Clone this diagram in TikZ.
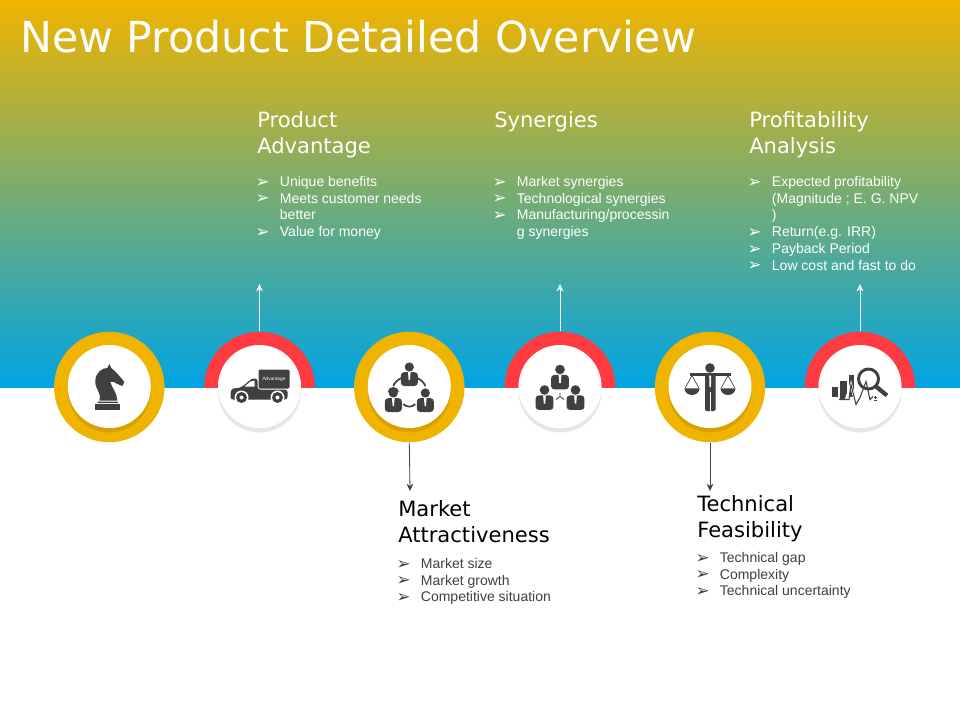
\documentclass[tikz,border=0pt]{standalone}
\usepackage{fontspec}
\setmainfont{Liberation Sans}
\newfontfamily\headfont{DejaVu Sans}
\usetikzlibrary{arrows.meta}
\definecolor{goldc}{HTML}{F0B400}
\definecolor{goldd}{HTML}{D9A000}
\definecolor{bluec}{HTML}{00A4E4}
\definecolor{redc}{HTML}{FF3B41}
\definecolor{iconc}{HTML}{404040}
\definecolor{shadowc}{HTML}{E6E6E6}
\tikzset{goldring/.style = {shape=circle,fill=goldc,minimum size=110.5*0.75pt,inner sep=0}}
\tikzset{redring/.style = {shape=circle,fill=redc,minimum size=110.5*0.75pt,inner sep=0}}
\tikzset{disc/.style = {shape=circle,fill=white,minimum size=83*0.75pt,inner sep=0}}
\tikzset{edge/.style = {-{Stealth[length=5.5pt,width=5pt]},line width=0.6pt}}
\tikzset{heading/.style = {anchor=north west,inner sep=0,align=left,font=\headfont\fontsize{15.8}{19.5}\selectfont}}
\tikzset{bullets/.style = {anchor=north west,inner sep=0,align=left,font=\fontsize{10.5}{12.55}\selectfont}}
\tikzset{ink/.style = {fill=iconc,draw=none}}
\tikzset{inkline/.style = {draw=iconc,line width=1.3pt,fill=none}}
\newcommand{\bul}{\makebox[17pt][l]{\hspace{-1.3pt}\smash{\raisebox{-0.5pt}{\headfont\fontsize{12.5}{14}\selectfont ➢}}}}
\newcommand{\hang}{\makebox[17pt][l]{}}
% head at (#1,#2), #3 is the scale
\newcommand{\person}[3]{
  \begin{scope}[shift={(#1,#2)},scale=#3]
    \fill[ink] (0,0) circle (4.6);
    \fill[ink,rounded corners=2.5] (-8.5,19) -- (-8.5,5.2) -- (8.5,5.2) -- (8.5,19) -- cycle;
    \fill[white] (-1.3,5.2) -- (1.3,5.2) -- (0.7,13) -- (-0.7,13) -- cycle;
  \end{scope}
}
\begin{document}
\begin{tikzpicture}[x=0.75pt,y=-0.75pt]
  \useasboundingbox (0,0) rectangle (960,720);
  \fill[white] (0,0) rectangle (960,720);
  \shade[top color=goldc,bottom color=bluec] (0,0) rectangle (960,387);

  % rings
  \foreach \name/\cx in {knight/109.3,group/409.3,scales/710} {
    \node[goldring] (\name ring) at (\cx,387) {};
    \fill[goldd] (\cx,391) circle (41.5);
  }
  \begin{scope}
    \clip (0,0) rectangle (960,387);
    \foreach \name/\cx in {truck/259.5,team/560,chart/860} {
      \node[redring] (\name ring) at (\cx,387) {};
    }
  \end{scope}
  \foreach \cx in {259.5,560,860} {
    \fill[shadowc] (\cx,391) circle (41.5);
  }
  \foreach \name/\cx in {knight/109.3,truck/259.5,group/409.3,team/560,scales/710,chart/860} {
    \node[disc] (\name disc) at (\cx,386.5) {};
  }

  % knight
  \begin{scope}[shift={(109.3,387)}]
    \fill[ink] (-14,17) -- (11,17) -- (11,23) -- (-14,23) -- cycle;
    \fill[ink] (-11,14.5) -- (8,14.5) -- (9,16) -- (-12,16) -- cycle;
    \fill[ink] (-10,13.5) .. controls (-7,6) and (-15,2) .. (-14,-7)
      .. controls (-13,-15) and (-7,-19) .. (-2,-19) -- (0,-23) -- (2,-19)
      .. controls (7,-15) and (12,-9) .. (15,-5) -- (13,-1) -- (8,-3)
      .. controls (6,-5) and (3,-6) .. (1,-5)
      .. controls (2,0) and (8,6) .. (8,13.5) -- cycle;
  \end{scope}

  % truck
  \begin{scope}[shift={(259.5,386.5)}]
    \fill[ink,rounded corners=1] (-1,-17) rectangle (30,2);
    \node[text=white,font=\fontsize{3.6}{4}\selectfont] (truckword) at (14.5,-7.5) {Advantage};
    \fill[ink,rounded corners=2] (-29,13) -- (-29,6) .. controls (-27,1) and (-22,2) .. (-17,0)
      -- (-10,-6) .. controls (-7,-8) and (-4,-8) .. (-2,-8) -- (-2,3) -- (28,3) -- (28,13) -- cycle;
    \fill[white] (-15,0) -- (-9,-5) -- (-5,-6) -- (-5,0) -- cycle;
    \foreach \wx in {-18,18} {
      \fill[white] (\wx,11) circle (7);
      \fill[ink] (\wx,11) circle (5.5);
      \fill[white] (\wx,11) circle (2);
    }
  \end{scope}

  % three people in a circle
  \begin{scope}[shift={(409.3,387)}]
    \person{0}{-20}{1}
    \person{-16}{6}{1}
    \person{16}{6}{1}
    \fill[ink] (-21.5,5) arc (180:360:5.5 and 5) -- cycle;
    \draw[inkline] (-8,-9) .. controls (-12,-7) and (-15,-4) .. (-16,-1);
    \draw[inkline] (8,-9) .. controls (12,-7) and (15,-4) .. (16,-1);
    \draw[inkline] (-6,17) .. controls (-3,20.5) and (3,20.5) .. (6,17);
  \end{scope}

  % three people in a tree
  \begin{scope}[shift={(560,386.5)}]
    \person{0}{-17}{1.05}
    \person{-15.5}{3.5}{1.05}
    \person{15.5}{3.5}{1.05}
    \draw[draw=iconc,line width=0.6pt] (0,6) -- (0,10) -- (-4,13) (0,10) -- (4,13);
  \end{scope}

  % man holding scales
  \begin{scope}[shift={(710,387)}]
    \fill[ink] (0,-19) circle (4.8);
    \fill[ink] (-20,-14.5) rectangle (21,-11.5);
    \fill[ink,rounded corners=1] (-5,-13) rectangle (5.5,24);
    \fill[white] (-0.1,5) rectangle (0.5,24);
    \fill[white] (-0.8,-11.5) -- (1.2,-11.5) -- (0.9,0) -- (-0.5,0) -- cycle;
    \foreach \px in {-18,18} {
      \draw[draw=iconc,line width=0.5pt] (\px-7,1.3) -- (\px,-11.5) -- (\px+7,1.3);
      \fill[ink] (\px-7.5,1.3) arc (180:0:7.5 and 6.7) -- cycle;
    }
  \end{scope}

  % chart under a magnifier
  \begin{scope}[shift={(860,386.5)}]
    \fill[ink] (-28,0) rectangle (-22.5,10);
    \fill[ink] (-20.5,-6) rectangle (-13,12.5);
    \fill[ink] (-11.5,-12) rectangle (-6,10);
    \draw[draw=white,line width=1.8pt] (-14,13) -- (-9,-2) -- (-4,18);
    \draw[draw=iconc,line width=0.8pt] (-21,13) -- (-11,13) -- (-9,-2) -- (-4,18) -- (0,11) -- (6,-5) -- (10,13) -- (13,10);
    \draw[draw=iconc,line width=2.2pt] (8.5,-7.5) circle (10);
    \draw[draw=iconc,line width=3.2pt] (16,0) -- (27,9);
    \draw[draw=iconc,line width=0.5pt] (14,11) -- (17,11) (15.5,9.5) -- (15.5,12.5) (14,14) -- (17,14);
  \end{scope}

  % connectors
  \coordinate (truckend) at (259.5,284);
  \coordinate (teamend) at (560,284);
  \coordinate (chartend) at (860,284);
  \coordinate (groupend) at (410,491);
  \coordinate (scalesend) at (710,491);
  \draw[edge,white] (truckring.north) to (truckend);
  \draw[edge,white] (teamring.north) to (teamend);
  \draw[edge,white] (chartring.north) to (chartend);
  \draw[edge,iconc] (groupring.south) to (groupend);
  \draw[edge,iconc] (scalesring.south) to (scalesend);

  % texts
  \node[text=white,anchor=north west,inner sep=0,font=\headfont\fontsize{32}{38}\selectfont] (title) at (20,20) {New Product Detailed Overview};

  \node[heading,text=white] (advhead) at (257,111) {Product\\Advantage};
  \node[heading,text=white] (synhead) at (494,111) {Synergies};
  \node[heading,text=white] (profhead) at (749,111) {Profitability\\Analysis};
  \node[heading,text=black] (markhead) at (398,500) {Market\\Attractiveness};
  \node[heading,text=black] (techhead) at (697,495) {Technical\\Feasibility};

  \node[bullets,text=white] (advlist) at (257,176) {\bul Unique benefits\\\bul Meets customer needs\\\hang better\\\bul Value for money};
  \node[bullets,text=white] (synlist) at (494,176) {\bul Market synergies\\\bul Technological synergies\\\bul Manufacturing/processin\\\hang g synergies};
  \node[bullets,text=white] (proflist) at (749,176) {\bul Expected profitability\\\hang (Magnitude ; E. G. NPV\\\hang )\\\bul Return(e.g. IRR)\\\bul Payback Period\\\bul Low cost and fast to do};
  \node[bullets,text=iconc] (marklist) at (398,558) {\bul Market size\\\bul Market growth\\\bul Competitive situation};
  \node[bullets,text=iconc] (techlist) at (697,552) {\bul Technical gap\\\bul Complexity\\\bul Technical uncertainty};
\end{tikzpicture}
\end{document}
